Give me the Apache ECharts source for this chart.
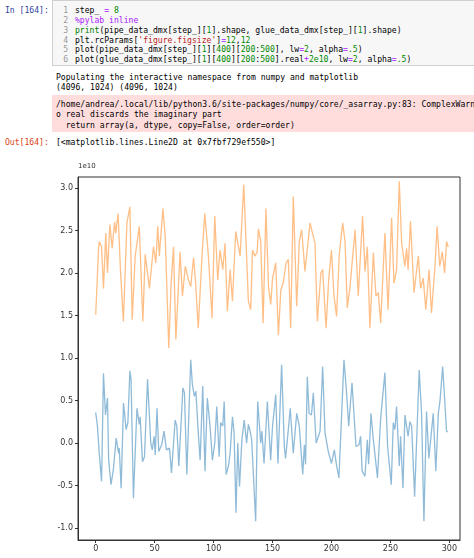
<!DOCTYPE html>
<html>
<head>
<meta charset="utf-8">
<script src="https://cdn.jsdelivr.net/npm/echarts@6/dist/echarts.min.js"></script>
<style>
  body { margin: 0; width: 474px; height: 558px; background: #fff; overflow: hidden; position: relative;
         font-family: "DejaVu Sans Mono", monospace; }
  .prompt { position: absolute; left: 5px; font-size: 8.1px; }
  .cell { position: absolute; left: 52px; top: 0; width: 430px; height: 64px; background: #f7f7f7;
          border: 1px solid #cfcfcf; }
  .ln { position: absolute; left: 58px; font-size: 8.1px; color: #999; width: 10px; text-align: right; }
  .code { position: absolute; left: 75px; font-size: 8.1px; color: #000; white-space: pre; }
  .out { position: absolute; left: 56px; font-size: 8.1px; white-space: pre; }
  .err { position: absolute; left: 52px; top: 95px; width: 430px; height: 37px; background: #fdd; }
  .k { color: #008000; } .s { color: #ba2121; } .n { color: #080; } .m { color: #aa22ff; }
  #chart { position: absolute; left: 0; top: 160px; width: 474px; height: 398px; }
</style>
</head>
<body>
<div class="prompt" style="top:5px;color:#303f9f">In [164]:</div>
<div class="cell"></div>
<div class="ln" style="top:5px">1</div>
<div class="ln" style="top:15px">2</div>
<div class="ln" style="top:25px">3</div>
<div class="ln" style="top:35px">4</div>
<div class="ln" style="top:44px">5</div>
<div class="ln" style="top:54px">6</div>
<div class="code" style="top:5px">step_ <span class="m">=</span> <span class="n">8</span></div>
<div class="code" style="top:15px"><span class="m">%pylab inline</span></div>
<div class="code" style="top:25px"><span class="k">print</span>(pipe_data_dmx[step_][<span class="n">1</span>].shape, glue_data_dmx[step_][<span class="n">1</span>].shape)</div>
<div class="code" style="top:35px">plt.rcParams[<span class="s">'figure.figsize'</span>]<span class="m">=</span><span class="n">12</span>,<span class="n">12</span></div>
<div class="code" style="top:44px">plot(pipe_data_dmx[step_][<span class="n">1</span>][<span class="n">400</span>][<span class="n">200</span>:<span class="n">500</span>], lw<span class="m">=</span><span class="n">2</span>, alpha<span class="m">=</span><span class="n">.5</span>)</div>
<div class="code" style="top:54px">plot(glue_data_dmx[step_][<span class="n">1</span>][<span class="n">400</span>][<span class="n">200</span>:<span class="n">500</span>].real<span class="m">+</span><span class="n">2e10</span>, lw<span class="m">=</span><span class="n">2</span>, alpha<span class="m">=</span><span class="n">.5</span>)</div>
<div class="out" style="top:72px">Populating the interactive namespace from numpy and matplotlib</div>
<div class="out" style="top:82px">(4096, 1024) (4096, 1024)</div>
<div class="err"></div>
<div class="out" style="top:99px">/home/andrea/.local/lib/python3.6/site-packages/numpy/core/_asarray.py:83: ComplexWarning: Casting complex values t</div>
<div class="out" style="top:109px">o real discards the imaginary part</div>
<div class="out" style="top:120px">  return array(a, dtype, copy=False, order=order)</div>
<div class="prompt" style="top:137px;color:#d84315">Out[164]:</div>
<div class="out" style="top:137px">[&lt;matplotlib.lines.Line2D at 0x7fbf729ef550&gt;]</div>
<div id="chart"></div>
<script>
// values in units of 1e10, [index, value]
const pipeData = [
  [0,0.36],[1.5,0.2],[3,-0.12],[5,-0.45],[6.6,0.82],[8.3,0.33],[10,0.53],[11,-0.2],[13,-0.49],[15,-0.31],
  [17.4,0.06],[19.4,-0.12],[20,-0.06],[21.6,-0.53],[23.6,0.47],[25.8,0.16],[27.3,0.24],[29,0.85],[30,0.75],[32,-0.65],
  [35,0.41],[37,0.22],[37.7,0.31],[39.7,-0.22],[41.4,-0.16],[44,0.75],[46.7,0.0],[48,-0.08],[49.6,0.08],[50.5,-0.14],
  [52,0.41],[53.5,-0.1],[56,-0.02],[58,0.14],[60,-0.08],[62.6,-0.06],[64.3,-0.35],[67.4,0.27],[68.8,0.2],[70.5,-0.27],
  [74,0.65],[75.3,0.59],[77.3,-0.37],[80.6,0.98],[82,0.69],[83.7,0.55],[85,0.61],[87,0.12],[88.6,-0.2],[90.8,0.67],
  [92.7,-0.33],[94.7,0.53],[97,0.2],[99,-0.2],[101,0.0],[102.7,0.43],[104.7,-0.16],[106,0.24],[107.8,0.2],[109,0.49],
  [110.6,-0.37],[112.6,-0.27],[114,-0.12],[116,0.31],[117.4,0.12],[119,-0.82],[120.5,0.0],[122,-0.51],[124,0.04],[126,0.27],
  [128,0.0],[129.5,0.22],[131,0.14],[132.3,0.04],[135.7,-0.92],[137.4,0.49],[138.6,0.47],[140,0.0],[141,0.14],[142.8,-0.24],
  [145.6,0.49],[148.4,-0.2],[150,0.2],[152.7,0.57],[154.6,-0.24],[157.7,0.92],[160,-0.04],[161,-0.18],[162.6,0.04],[165,0.41],
  [167.6,-0.12],[170.5,0.35],[172.7,0.2],[175.6,-0.37],[177,-0.02],[178,-0.25],[179.5,0.78],[181,0.35],[183,0.33],[184.6,0.59],
  [187,0.0],[190.3,0.14],[192.5,0.9],[194.5,0.12],[197.3,-0.1],[200,-0.24],[202.4,-0.08],[204.4,-0.27],[206.3,-0.41],[210.6,0.98],
  [212.8,0.59],[214.6,0.2],[217.4,0.71],[220.8,-0.04],[223.3,-0.02],[224.7,0.08],[226,-0.33],[228.4,-0.39],[230.4,0.04],[231.5,-0.25],
  [233.5,0.35],[235.5,0.04],[239,-0.41],[241.7,0.29],[245.3,0.83],[247.6,-0.04],[250.7,-0.49],[252.4,0.24],[253.8,0.16],[255.2,0.43],
  [257.5,-0.27],[258.6,0.08],[260.6,-0.53],[262.3,0.33],[265,0.08],[266.5,0.25],[268,0.2],[270.5,-0.63],[274.4,0.86],[276.4,0.35],
  [278.4,-0.92],[280.6,0.37],[282.6,-0.18],[286.3,0.35],[288.5,-0.33],[290.6,0.35],[292,0.49],[294.3,0.9],[297.6,0.14],[298.8,0.13]
];
const glueData = [
  [0,1.51],[2.4,2.27],[3,2.37],[5,2.31],[6.6,1.82],[8.6,2.47],[10,2.0],[12,2.57],[14,2.29],[16,2.6],
  [17,2.47],[19,2.7],[21,2.04],[23.5,1.43],[26.5,2.59],[29,2.78],[31,1.45],[33.5,2.2],[37,2.55],[40,1.43],
  [42,2.22],[45.6,1.82],[49,2.31],[51,2.12],[52.7,2.55],[54,2.2],[57,2.76],[59,2.43],[62,1.12],[64,1.88],
  [66,2.31],[68,1.22],[71.6,2.25],[73.6,1.73],[76,2.08],[78.7,1.92],[80.6,1.84],[83,2.18],[84.6,1.92],[87,1.35],
  [90,2.16],[92.5,2.7],[95.6,2.2],[98.7,1.47],[101,2.67],[103.5,1.92],[105.5,2.27],[107.8,2.04],[109.7,2.35],[111.7,1.55],
  [114,2.04],[116,1.67],[118.8,2.49],[122.5,2.2],[125.6,3.04],[129.5,1.67],[131.5,1.57],[133,2.27],[135,2.2],[137,2.25],
  [138,2.52],[140,2.37],[142,1.41],[144.4,2.76],[146.6,1.84],[148.5,1.63],[150,1.94],[152.7,2.12],[155,1.27],[157,1.8],
  [159,1.88],[161.5,2.12],[163.4,2.16],[165.4,1.35],[167.6,2.9],[170.5,1.61],[172.7,2.37],[174.7,2.51],[177.5,2.02],[181.8,2.59],
  [186,2.35],[188,1.43],[191,2.0],[192.5,2.04],[195.4,1.35],[197.6,1.92],[200,2.27],[202,1.75],[204.3,1.49],[206.6,2.22],
  [209.5,2.59],[211.5,2.37],[213.4,1.59],[215.7,1.84],[220,2.51],[222.7,1.73],[226.4,2.67],[228.4,2.02],[230.4,2.31],[232.6,1.35],
  [235.5,2.24],[237.7,1.73],[239.7,1.77],[241.7,1.41],[245.3,2.47],[248,1.57],[251,2.65],[253,1.88],[255.2,2.04],[257.5,3.08],
  [259.5,2.35],[262.3,2.08],[263.7,2.29],[265,2.04],[267,2.61],[270,1.77],[273.6,2.2],[275.6,1.82],[277.8,1.94],[280,1.57],
  [282.8,2.04],[284.8,1.53],[287.6,2.04],[289.6,2.55],[291.8,2.08],[294,2.25],[296,2.0],[297.6,2.37],[299,2.31]
];
const xTicks = [0, 50, 100, 150, 200, 250, 300];
const yTicks = [-1.0, -0.5, 0.0, 0.5, 1.0, 1.5, 2.0, 2.5, 3.0];

const chart = echarts.init(document.getElementById('chart'));
const tickFont = { fontFamily: 'DejaVu Sans', fontSize: 8, color: '#333' };
chart.setOption({
  animation: false,
  grid: { left: 78, right: 14, top: 17, bottom: 18, show: true, borderColor: '#333', borderWidth: 1 },
  xAxis: {
    type: 'value', min: -15, max: 309,
    axisLine: { show: true, onZero: false, lineStyle: { color: '#333' } },
    axisTick: { show: true, inside: false, length: 3, customValues: xTicks, lineStyle: { color: '#333' } },
    axisLabel: { ...tickFont, customValues: xTicks, margin: 5 },
    splitLine: { show: false }
  },
  yAxis: {
    type: 'value', min: -1.14, max: 3.13,
    axisLine: { show: true, onZero: false, lineStyle: { color: '#333' } },
    axisTick: { show: true, length: 3, customValues: yTicks, lineStyle: { color: '#333' } },
    axisLabel: { ...tickFont, customValues: yTicks, margin: 5, formatter: v => v.toFixed(1) },
    splitLine: { show: false }
  },
  graphic: [{ type: 'text', left: 78, top: 3, style: { text: '1e10', font: '7px DejaVu Sans', fill: '#333' } }],
  series: [
    { type: 'line', data: pipeData, symbol: 'none', lineStyle: { color: '#1f77b4', width: 1.3, opacity: 0.5 } },
    { type: 'line', data: glueData, symbol: 'none', lineStyle: { color: '#ff7f0e', width: 1.3, opacity: 0.5 } }
  ]
});
</script>
</body>
</html>
